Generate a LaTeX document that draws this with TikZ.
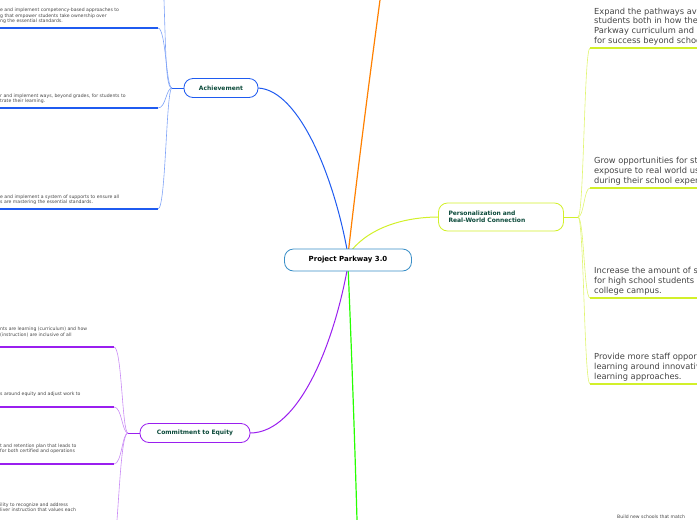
\documentclass[tikz,border=0pt]{standalone}
\usepackage{fontspec}
\setmainfont{DejaVu Sans}
\definecolor{ablue}{HTML}{1F5BF0}
\definecolor{cblue}{HTML}{3A8FC7}
\definecolor{lblue}{HTML}{7FA3F7}
\definecolor{apurp}{HTML}{9A1FEF}
\definecolor{lpurp}{HTML}{C98AF5}
\definecolor{ayel}{HTML}{D2F02A}
\definecolor{lyel}{HTML}{E0F570}
\definecolor{tgreen}{HTML}{0B4A3A}
\definecolor{tgray}{HTML}{444444}
\tikzset{
 main/.style={draw=#1,line width=0.8pt,rounded corners=9pt,fill=white,font=\bfseries\fontsize{6}{7}\selectfont,text=tgreen,inner sep=0pt},
 small/.style={font=\fontsize{4.6}{5.6}\selectfont,text=tgray,align=left,anchor=south west,inner sep=0pt},
 big/.style={font=\fontsize{8.3}{9.6}\selectfont,text=tgray,align=left,anchor=south west,inner sep=0pt},
}
\begin{document}
\begin{tikzpicture}[x=1pt,y=-1pt]
\useasboundingbox (0,0) rectangle (697,520);
\clip (0,0) rectangle (697,520);
% main trunks
\draw[orange,line width=1.2pt] (348,255) .. controls (360,150) and (372,60) .. (380,0);
\draw[green!80!lime,line width=1.2pt] (348,265) .. controls (352,360) and (355,450) .. (357,520);
\draw[ablue,line width=1pt] (348,255) .. controls (335,180) and (300,90) .. (258,88);
\draw[apurp,line width=1pt] (348,265) .. controls (335,340) and (300,433) .. (250,433);
\draw[ayel,line width=1pt] (348,255) .. controls (365,230) and (400,217) .. (439,217);
\node[main=cblue,minimum width=127pt,minimum height=22pt,font=\bfseries\fontsize{7}{8}\selectfont,text=black] (c) at (348,260) {Project Parkway 3.0};
% Achievement
\node[main=ablue,minimum width=74pt,minimum height=19pt] (a) at (221,88) {Achievement};
\coordinate (aj) at (172,88);
\draw[ablue,line width=1pt] (a.west) -- (aj);
\draw[lblue,line width=0.6pt] (aj) .. controls (166,88) and (166,60) .. (164,0);
\draw[lblue,line width=0.6pt] (aj) .. controls (166,88) and (166,28) .. (158,28);
\draw[lblue,line width=0.6pt] (aj) .. controls (166,88) and (166,108) .. (158,108);
\draw[lblue,line width=0.6pt] (aj) .. controls (166,88) and (166,209) .. (158,209);
\draw[ablue,line width=1.2pt] (0,28) -- (158,28);
\draw[ablue,line width=1.2pt] (0,108) -- (158,108);
\draw[ablue,line width=1.2pt] (0,209) -- (158,209);
\node[small] (t1) at (0,24) {e and implement competency-based approaches to\\g that empower students take ownership over\\ng the essential standards.};
\node[small] (t2) at (0,104) {r and implement ways, beyond grades, for students to\\trate their learning.};
\node[small] (t3) at (0,205) {e and implement a system of supports to ensure all\\s are mastering the essential standards.};
% Equity
\node[main=apurp,minimum width=110pt,minimum height=19pt] (e) at (195,433) {Commitment to Equity};
\coordinate (ej) at (128,433);
\draw[apurp,line width=1pt] (e.west) -- (ej);
\draw[lpurp,line width=0.6pt] (ej) .. controls (122,433) and (122,347) .. (114,347);
\draw[lpurp,line width=0.6pt] (ej) .. controls (122,433) and (122,407) .. (114,407);
\draw[lpurp,line width=0.6pt] (ej) .. controls (122,433) and (122,464) .. (114,464);
\draw[lpurp,line width=0.6pt] (ej) .. controls (122,433) and (120,480) .. (117,520);
\draw[apurp,line width=1.2pt] (0,347) -- (114,347);
\draw[apurp,line width=1.2pt] (0,407) -- (114,407);
\draw[apurp,line width=1.2pt] (0,464) -- (114,464);
\node[small] (u1) at (0,337) {nts are learning (curriculum) and how\\ (instruction) are inclusive of all};
\node[small] (u2) at (0,397) {s around equity and adjust work to};
\node[small] (u3) at (0,454) {t and retention plan that leads to\\ for both certified and operations};
\node[small] (u4) at (0,512) {ility to recognize and address\\liver instruction that values each};
% Personalization
\node[main=ayel,minimum width=125pt,minimum height=28pt,align=left,text width=105pt,font=\bfseries\fontsize{6}{7.5}\selectfont] (p) at (501,217) {Personalization and\\Real-World Connection};
\coordinate (pj) at (578,217);
\draw[ayel,line width=1pt] (p.east) -- (pj);
\draw[lyel,line width=0.6pt] (pj) .. controls (584,217) and (584,48) .. (590,48);
\draw[lyel,line width=0.6pt] (pj) .. controls (584,217) and (584,188) .. (590,188);
\draw[lyel,line width=0.6pt] (pj) .. controls (584,217) and (584,298) .. (590,298);
\draw[lyel,line width=0.6pt] (pj) .. controls (584,217) and (584,384) .. (590,384);
\draw[ayel,line width=1.2pt] (590,48) -- (697,48);
\draw[ayel,line width=1.2pt] (590,188) -- (697,188);
\draw[ayel,line width=1.2pt] (590,298) -- (697,298);
\draw[ayel,line width=1.2pt] (590,384) -- (697,384);
\node[big] (r1) at (594,45) {Expand the pathways available to\\students both in how the\\Parkway curriculum and how\\for success beyond school};
\node[big] (r2) at (594,185) {Grow opportunities for students\\exposure to real world use\\during their school experience};
\node[big] (r3) at (594,295) {Increase the amount of support\\for high school students to\\college campus.};
\node[big] (r4) at (594,381) {Provide more staff opportunities\\learning around innovative\\learning approaches.};
\node[small,anchor=west] (b1) at (617,517) {Build new schools that match};
\end{tikzpicture}
\end{document}
